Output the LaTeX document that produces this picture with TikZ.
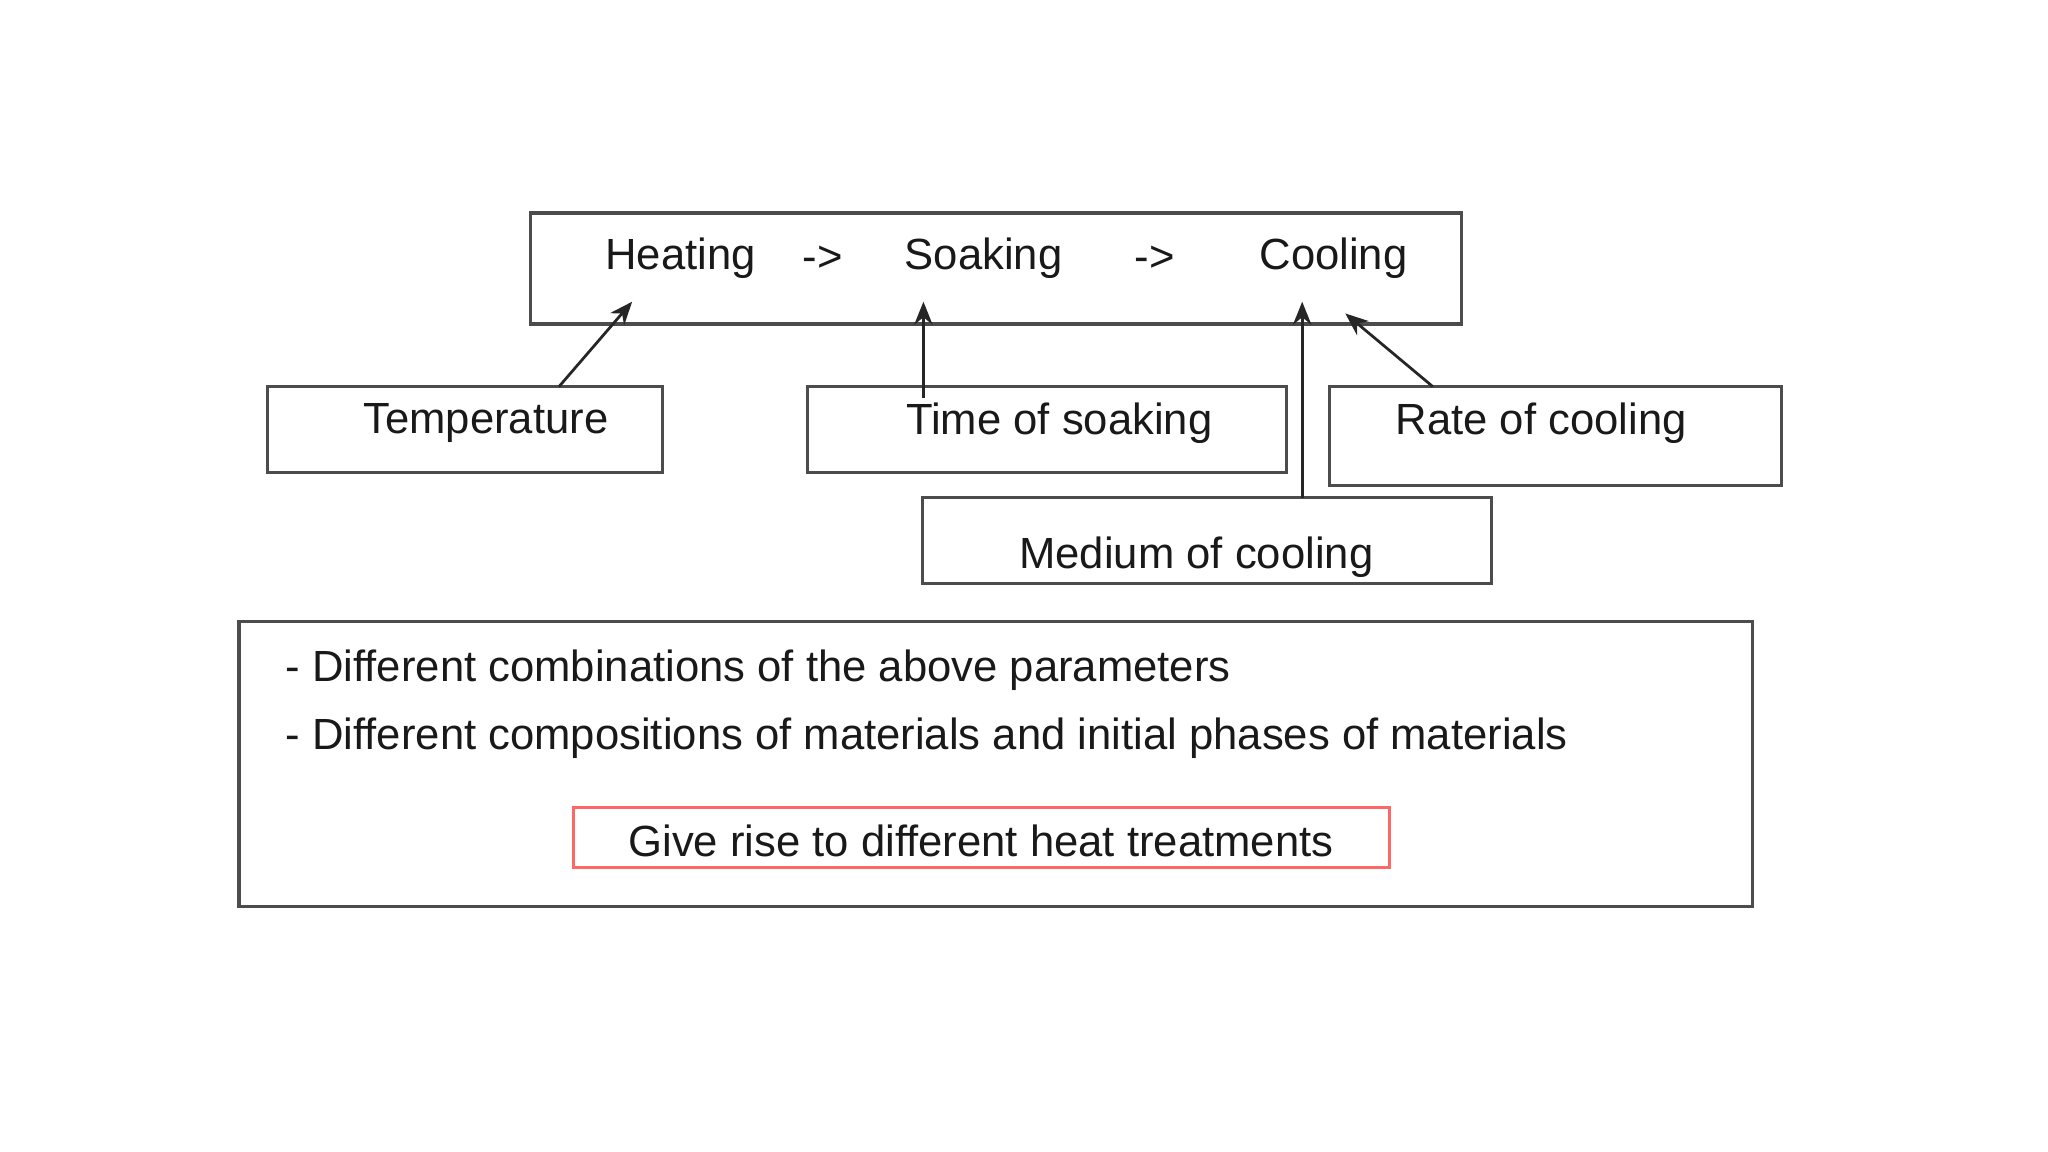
\documentclass[tikz,border=0pt]{standalone}
\usepackage{fontspec}
\setmainfont{Liberation Sans}
\usetikzlibrary{arrows.meta}
\begin{document}
\begin{tikzpicture}[x=0.01cm,y=-0.01cm,
  box/.style={draw=black!70,line width=0.7pt},
  redbox/.style={draw=red!60,line width=0.7pt},
  lbl/.style={inner sep=0pt,font=\fontsize{9.5}{11}\selectfont,text=black!90},
  arr/.style={draw=black!85,line width=0.6pt,-{Stealth[length=5pt,width=4pt]}}]
\useasboundingbox (0,0) rectangle (1568,882);
\draw[box] (406,163) rectangle (1119,248);
\node[lbl] (heat) at (521,198) {Heating};
\node[lbl] (a1) at (630,198) {->};
\node[lbl] (soak) at (753,198) {Soaking};
\node[lbl] (a2) at (884,198) {->};
\node[lbl] (cool) at (1021,198) {Cooling};
\draw[box] (205,296) rectangle (507,362);
\node[lbl] (temp) at (372,324) {Temperature};
\draw[box] (618,296) rectangle (985,362);
\node[lbl] (time) at (811,324) {Time of soaking};
\draw[box] (1018,296) rectangle (1364,372);
\node[lbl] (rate) at (1180,324) {Rate of cooling};
\draw[box] (706,381) rectangle (1142,447);
\node[lbl] (med) at (916,427) {Medium of cooling};
\coordinate (s1) at (428,296); \coordinate (e1) at (484,231);
\coordinate (s2) at (707,305); \coordinate (e2) at (707,231);
\coordinate (s3) at (997,381); \coordinate (e3) at (997,231);
\coordinate (s4) at (1097,296); \coordinate (e4) at (1030,240);
\draw[arr] (s1) -- (e1);
\draw[arr] (s2) -- (e2);
\draw[arr] (s3) -- (e3);
\draw[arr] (s4) -- (e4);
\draw[box] (183,476) rectangle (1342,694);
\node[lbl,anchor=west] (l1) at (218,513) {- Different combinations of the above parameters};
\node[lbl,anchor=west] (l2) at (218,565) {- Different compositions of materials and initial phases of materials};
\draw[redbox] (439,618) rectangle (1064,664);
\node[lbl] (give) at (751,644) {Give rise to different heat treatments};
\end{tikzpicture}
\end{document}
